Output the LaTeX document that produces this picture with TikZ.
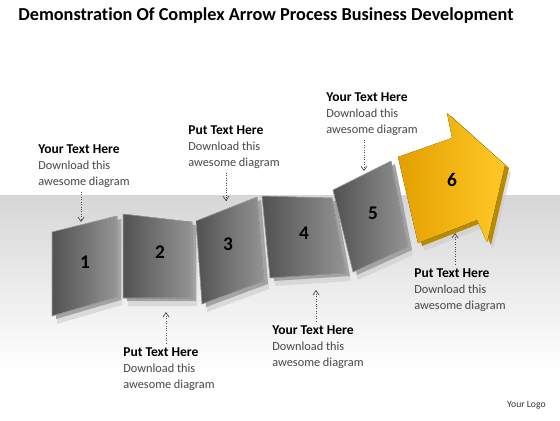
\documentclass[tikz,border=0pt]{standalone}
\usepackage{fontspec}
\setmainfont{Carlito}[Ligatures=NoCommon]
\usepackage{xcolor}
\usetikzlibrary{arrows.meta}
\definecolor{golddark}{HTML}{B88A00}
\definecolor{goldA}{HTML}{E3A000}
\definecolor{goldB}{HTML}{FFC826}
\newcommand\headtxt[1]{{\fontsize{7.7}{9.3}\selectfont\bfseries\color{black}#1}}

\begin{document}
\begin{tikzpicture}[x=0.02cm,y=-0.02cm,
  panel/.style={left color=black!68,right color=black!42,draw=black!35,line width=0.3pt},
  edge/.style={fill=black!36},
  shadow/.style={fill=black!20,opacity=.6},
  num/.style={font=\fontsize{11}{11}\selectfont\bfseries,inner sep=0pt},
  txt/.style={anchor=north west,inner sep=0pt,align=left,text=black!72,font=\fontsize{7}{9.3}\selectfont},
  callout/.style={densely dotted,black!70,thin,shorten <=2pt,-{Straight Barb[length=2.5pt,width=3.5pt]}}]
  \useasboundingbox (0,0) rectangle (560,420);
  \fill[white] (0,0) rectangle (560,420);
  \shade[top color=black!16,bottom color=white] (0,195) rectangle (560,370);

  % title
  \node[anchor=west,inner sep=0pt,font=\fontsize{10.4}{12}\selectfont\bfseries] (title) at (18,16)
    {Demonstration Of Complex Arrow Process Business Development};

  % panels 1-5
  \foreach \ax/\ay/\bx/\by/\cx/\cy/\dx/\dy in {52/232/117/216/117/297/52/316,
      123/214/192/222/192/298/123/298, 196/221/257/197/264/281/202/304,
      262/196/332/198/346/273/270/278, 333/190/391/161/408/247/353/272}
    \fill[shadow,shift={(5,8)}] (\ax,\ay) -- (\bx,\by) -- (\cx,\cy) -- (\dx,\dy) -- cycle;
  \foreach \ax/\ay/\bx/\by/\cx/\cy/\dx/\dy in {52/232/117/216/117/297/52/316,
      123/214/192/222/192/298/123/298, 196/221/257/197/264/281/202/304,
      262/196/332/198/346/273/270/278, 333/190/391/161/408/247/353/272}{
    \fill[edge,shift={(4,3)}] (\ax,\ay) -- (\bx,\by) -- (\cx,\cy) -- (\dx,\dy) -- cycle;
    \fill[panel] (\ax,\ay) -- (\bx,\by) -- (\cx,\cy) -- (\dx,\dy) -- cycle;
  }

  % arrow 6
  \fill[shadow,shift={(6,8)}] (398,157) -- (452,138) -- (447,113) -- (505,165) -- (487,242) -- (477,220) -- (418,243) -- cycle;
  \fill[golddark,shift={(4,3)}] (398,157) -- (452,138) -- (447,113) -- (505,165) -- (487,242) -- (477,220) -- (418,243) -- cycle;
  \fill[left color=goldA,right color=goldB] (398,157) -- (452,138) -- (447,113) -- (505,165) -- (487,242) -- (477,220) -- (418,243) -- cycle;

  % numbers
  \node[num] (n1) at (85,262) {1};
  \node[num] (n2) at (160,252) {2};
  \node[num] (n3) at (228,244) {3};
  \node[num] (n4) at (304,233) {4};
  \node[num] (n5) at (373,213) {5};
  \node[num] (n6) at (452,180) {6};

  % callout texts
  \node[txt] (t1) at (38,144) {\headtxt{Your Text Here}\\Download this\\awesome diagram};
  \node[txt] (t2) at (188,125) {\headtxt{Put Text Here}\\Download this\\awesome diagram};
  \node[txt] (t3) at (326,92) {\headtxt{Your Text Here}\\Download this\\awesome diagram};
  \node[txt] (t4) at (414,268) {\headtxt{Put Text Here}\\Download this\\awesome diagram};
  \node[txt] (t5) at (272,325) {\headtxt{Your Text Here}\\Download this\\awesome diagram};
  \node[txt] (t6) at (123,347) {\headtxt{Put Text Here}\\Download this\\awesome diagram};
  \node[anchor=east,inner sep=0pt,font=\fontsize{5.5}{6}\selectfont,text=black!80] (logo) at (546,405) {Your Logo};

  \coordinate (a1) at (81,222);
  \coordinate (a2) at (226,201);
  \coordinate (a3) at (364,171);
  \coordinate (a4) at (455,233);
  \coordinate (a5) at (316,290);
  \coordinate (a6) at (166,312);
  \draw[callout] (t1.south -| a1) -- (a1);
  \draw[callout] (t2.south -| a2) -- (a2);
  \draw[callout] (t3.south -| a3) -- (a3);
  \draw[callout] (t4.north -| a4) -- (a4);
  \draw[callout] (t5.north -| a5) -- (a5);
  \draw[callout] (t6.north -| a6) -- (a6);
\end{tikzpicture}
\end{document}
